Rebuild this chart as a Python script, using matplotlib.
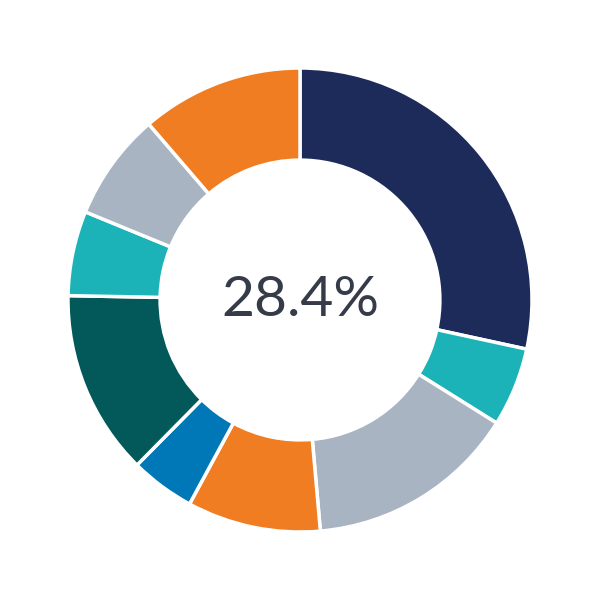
import matplotlib
matplotlib.use("Agg")
import matplotlib.pyplot as plt

values = [28.4, 5.5, 14.7, 9.3, 4.5, 12.9, 5.9, 7.5, 11.3]
colors = ["#1c2b5a", "#1bb3b7", "#a9b4c2", "#f07d22", "#0077b6",
          "#03585a", "#1bb3b7", "#a9b4c2", "#f07d22"]
center_label = "28.4%"

fig = plt.figure(figsize=(6, 6), dpi=100)
ax = fig.add_axes([0, 0, 1, 1])
ax.pie(values, colors=colors, startangle=90, counterclock=False,
       radius=1.0,
       wedgeprops=dict(width=0.397, edgecolor="white", linewidth=2.5))
lim = 300 / 232
ax.set_xlim(-lim, lim)
ax.set_ylim(-lim, lim)
ax.set_aspect("equal")
ax.axis("off")
ax.text(0, 0, center_label, ha="center", va="center", fontsize=41,
        color="#353b48", family=["Lato", "DejaVu Sans"])
fig.savefig("out.png", dpi=100, facecolor="white")
